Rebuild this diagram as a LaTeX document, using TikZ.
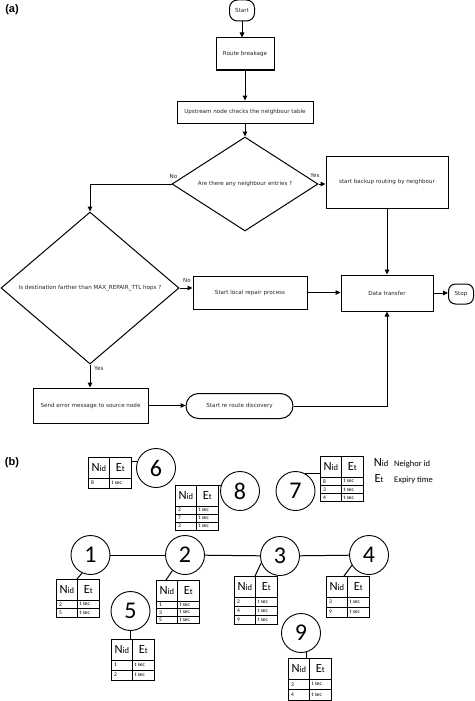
\documentclass[tikz,border=0pt]{standalone}
\usepackage{fontspec}
\usetikzlibrary{shapes.geometric,arrows.meta,calc}
\newfontfamily\flowfont{DejaVu Sans}
\newfontfamily\calfont{Carlito}
\newfontfamily\arialfont{Liberation Sans}

\tikzset{
  flow/.style={font=\flowfont\fontsize{5.6}{6.4}\selectfont, text=black!85},
  box/.style={draw, line width=1pt, rectangle, inner sep=1pt, flow},
  term/.style={draw, line width=1pt, rectangle, rounded corners=7pt, inner sep=1pt, flow},
  dia/.style={draw, line width=1pt, diamond, inner sep=0pt, flow},
  arr/.style={line width=1pt, -{Triangle[length=5pt,width=4.5pt]}},
  lbl/.style={flow, inner sep=0pt},
  circ/.style={draw, circle, line width=0.9pt, minimum size=39pt, inner sep=0pt, font=\calfont\fontsize{24}{24}\selectfont},
  tab/.style={draw, line width=1pt, rectangle, inner sep=0pt, outer sep=0pt, anchor=north west, minimum width=43pt},
  tabline/.style={line width=1pt},
  dcell/.style={inner sep=0pt, font=\calfont\fontsize{5.5}{5.5}\selectfont, anchor=west},
  hcell/.style={inner sep=0pt, font=\calfont},
  legtext/.style={inner sep=0pt, anchor=west, font=\calfont\fontsize{8.5}{9}\selectfont},
  panel/.style={inner sep=0pt, font=\arialfont\bfseries\fontsize{11}{11}\selectfont},
}

\newcommand\hdr[2]{{\fontsize{12.5}{12}\selectfont #1}{\fontsize{8.5}{8}\selectfont #2}}

% #1 name, #2 x, #3 y (top), #4 row height, #5 number of rows, #6 ids
\newcommand\ntab[6]{%
  \pgfmathsetmacro\tabh{21+#4*#5}%
  \node[tab, minimum height=\tabh pt] (#1) at (#2,#3) {};
  \draw[tabline] (#2+21.5,#3) -- (#2+21.5,#3+\tabh);
  \draw[tabline] (#2,#3+21) -- (#2+43,#3+21);
  \node[hcell] (#1-n) at (#2+10.75,#3+11) {\hdr{N}{id}};
  \node[hcell] (#1-e) at (#2+32.25,#3+11) {\hdr{E}{t}};
  \foreach \r [count=\i] in {#6} {
    \pgfmathsetmacro\yy{#3+21+#4*\i}
    \ifnum\i<#5 \draw[tabline] (#2,\yy) -- (#2+43,\yy); \fi
    \node[dcell] (#1-id\i) at (#2+3,\yy-#4/2) {\r};
    \node[dcell] (#1-t\i) at (#2+23.5,\yy-#4/2) {t sec};
  }
}

\begin{document}
\begin{tikzpicture}[x=1pt,y=-1pt]
\useasboundingbox[fill=white] (0,0) rectangle (474,701);

% ---------- (a) ----------
\node[panel] (la) at (12,9.5) {(a)};

\node[term, rounded corners=8pt, minimum width=25pt, minimum height=21pt] (start) at (242,10.5) {Start};
\node[box, minimum width=58pt, minimum height=32pt] (route) at (245,54) {Route breakage};
\node[box, minimum width=136pt, minimum height=22pt] (up) at (245,112) {Upstream node checks the neighbour table};
\node[dia, minimum width=146pt, minimum height=94pt] (d1) at (245,184) {\makebox[0pt]{Are there any neighbour entries ?}};
\node[box, minimum width=122pt, minimum height=52pt] (backup) at (387,182) {start backup routing by neighbour};
\node[dia, minimum width=178pt, minimum height=152pt] (d2) at (90,288) {\makebox[0pt]{Is destination farther than MAX\_REPAIR\_TTL hops ?}};
\node[box, minimum width=114pt, minimum height=33pt] (local) at (250,292.5) {Start local repair process};
\node[box, minimum width=92pt, minimum height=36pt] (data) at (387,293) {Data transfer};
\node[term, rounded corners=7pt, minimum width=25pt, minimum height=20pt] (stop) at (461,294) {Stop};
\node[box, minimum width=115pt, minimum height=35pt] (err) at (90.5,405.5) {Send error message to source node};
\node[term, rounded corners=12.5pt, minimum width=107pt, minimum height=25pt] (reroute) at (239.5,406) {Start re route discovery};

\draw[arr] (start.south) -- (start.south |- route.north);
\draw[arr] (route) -- (up);
\draw[arr] (up) -- (d1);
\draw[arr] (d1.east) -- (d1.east -| backup.west);
\draw[arr] (d1.west) -| (d2.north);
\draw[arr] (d2.east) -- (d2.east -| local.west);
\draw[arr] (local.east) -- (local.east -| data.west);
\draw[arr] (backup) -- (data);
\draw[arr] (data.east) -- (data.east -| stop.west);
\draw[arr] (d2.south) -- (d2.south |- err.north);
\draw[arr] (err.east) -- (err.east -| reroute.west);
\draw[arr] (reroute.east) -| (data.south);

\node[lbl] (no1) at (173.5,176) {No};
\node[lbl] (yes1) at (315,175) {Yes};
\node[lbl] (no2) at (187,280.5) {No};
\node[lbl] (yes2) at (99,368) {Yes};

% ---------- (b) ----------
\node[panel] (lb) at (12,463) {(b)};

\node[circ] (c6) at (156,468) {6};
\node[circ] (c8) at (240,491) {8};
\node[circ] (c7) at (295.5,491) {7};
\node[circ] (c1) at (90.5,555) {1};
\node[circ] (c2) at (185,555) {2};
\node[circ] (c3) at (280,556) {3};
\node[circ] (c4) at (369,555) {4};
\node[circ] (c5) at (130.5,611) {5};
\node[circ] (c9) at (301,633) {9};

\draw[tabline] (c1) -- (c2);
\draw[tabline] (c2) -- (c3);
\draw[tabline] (c3) -- (c4);

\ntab{t6}{88}{457}{10}{1}{8}
\ntab{t8}{175}{485}{8}{3}{2,7,3}
\ntab{t7}{320}{456}{8.3}{3}{8,3,4}
\ntab{t1}{56}{579}{8.5}{2}{2,5}
\ntab{t2}{156}{580}{7.5}{3}{1,3,5}
\ntab{t5}{111}{639}{10}{2}{1,2}
\ntab{t3}{234}{576}{9}{3}{2,4,9}
\ntab{t4}{326}{576}{10}{2}{3,9}
\ntab{t9}{288}{658}{10.5}{2}{3,4}

\draw[tabline] (c6.160) -- (c6.160 -| t6.east);
\draw[tabline] (c8.165) -- (c8.165 -| t8.east);
\draw[tabline] (c7.60) -- (c7.60 -| t7.west);
\draw[tabline] (c1.245) -- ([xshift=21pt]t1.north west);
\draw[tabline] (c2.231) -- ([xshift=10pt]t2.north west);
\draw[tabline] (c5.south) -- (c5.south |- t5.north);
\draw[tabline] (c3.200) -- ([xshift=21pt]t3.north west);
\draw[tabline] (c4.211) -- ([xshift=18pt]t4.north west);
\draw[tabline] (c9.285) -- (c9.285 |- t9.north);

% legend
\node[hcell] (lgN) at (381,463) {\hdr{N}{id}};
\node[legtext] (lgNt) at (394,464.5) {Neighor id};
\node[hcell] (lgE) at (379,479) {\hdr{E}{t}};
\node[legtext] (lgEt) at (394,480.5) {Expiry time};
\end{tikzpicture}
\end{document}
